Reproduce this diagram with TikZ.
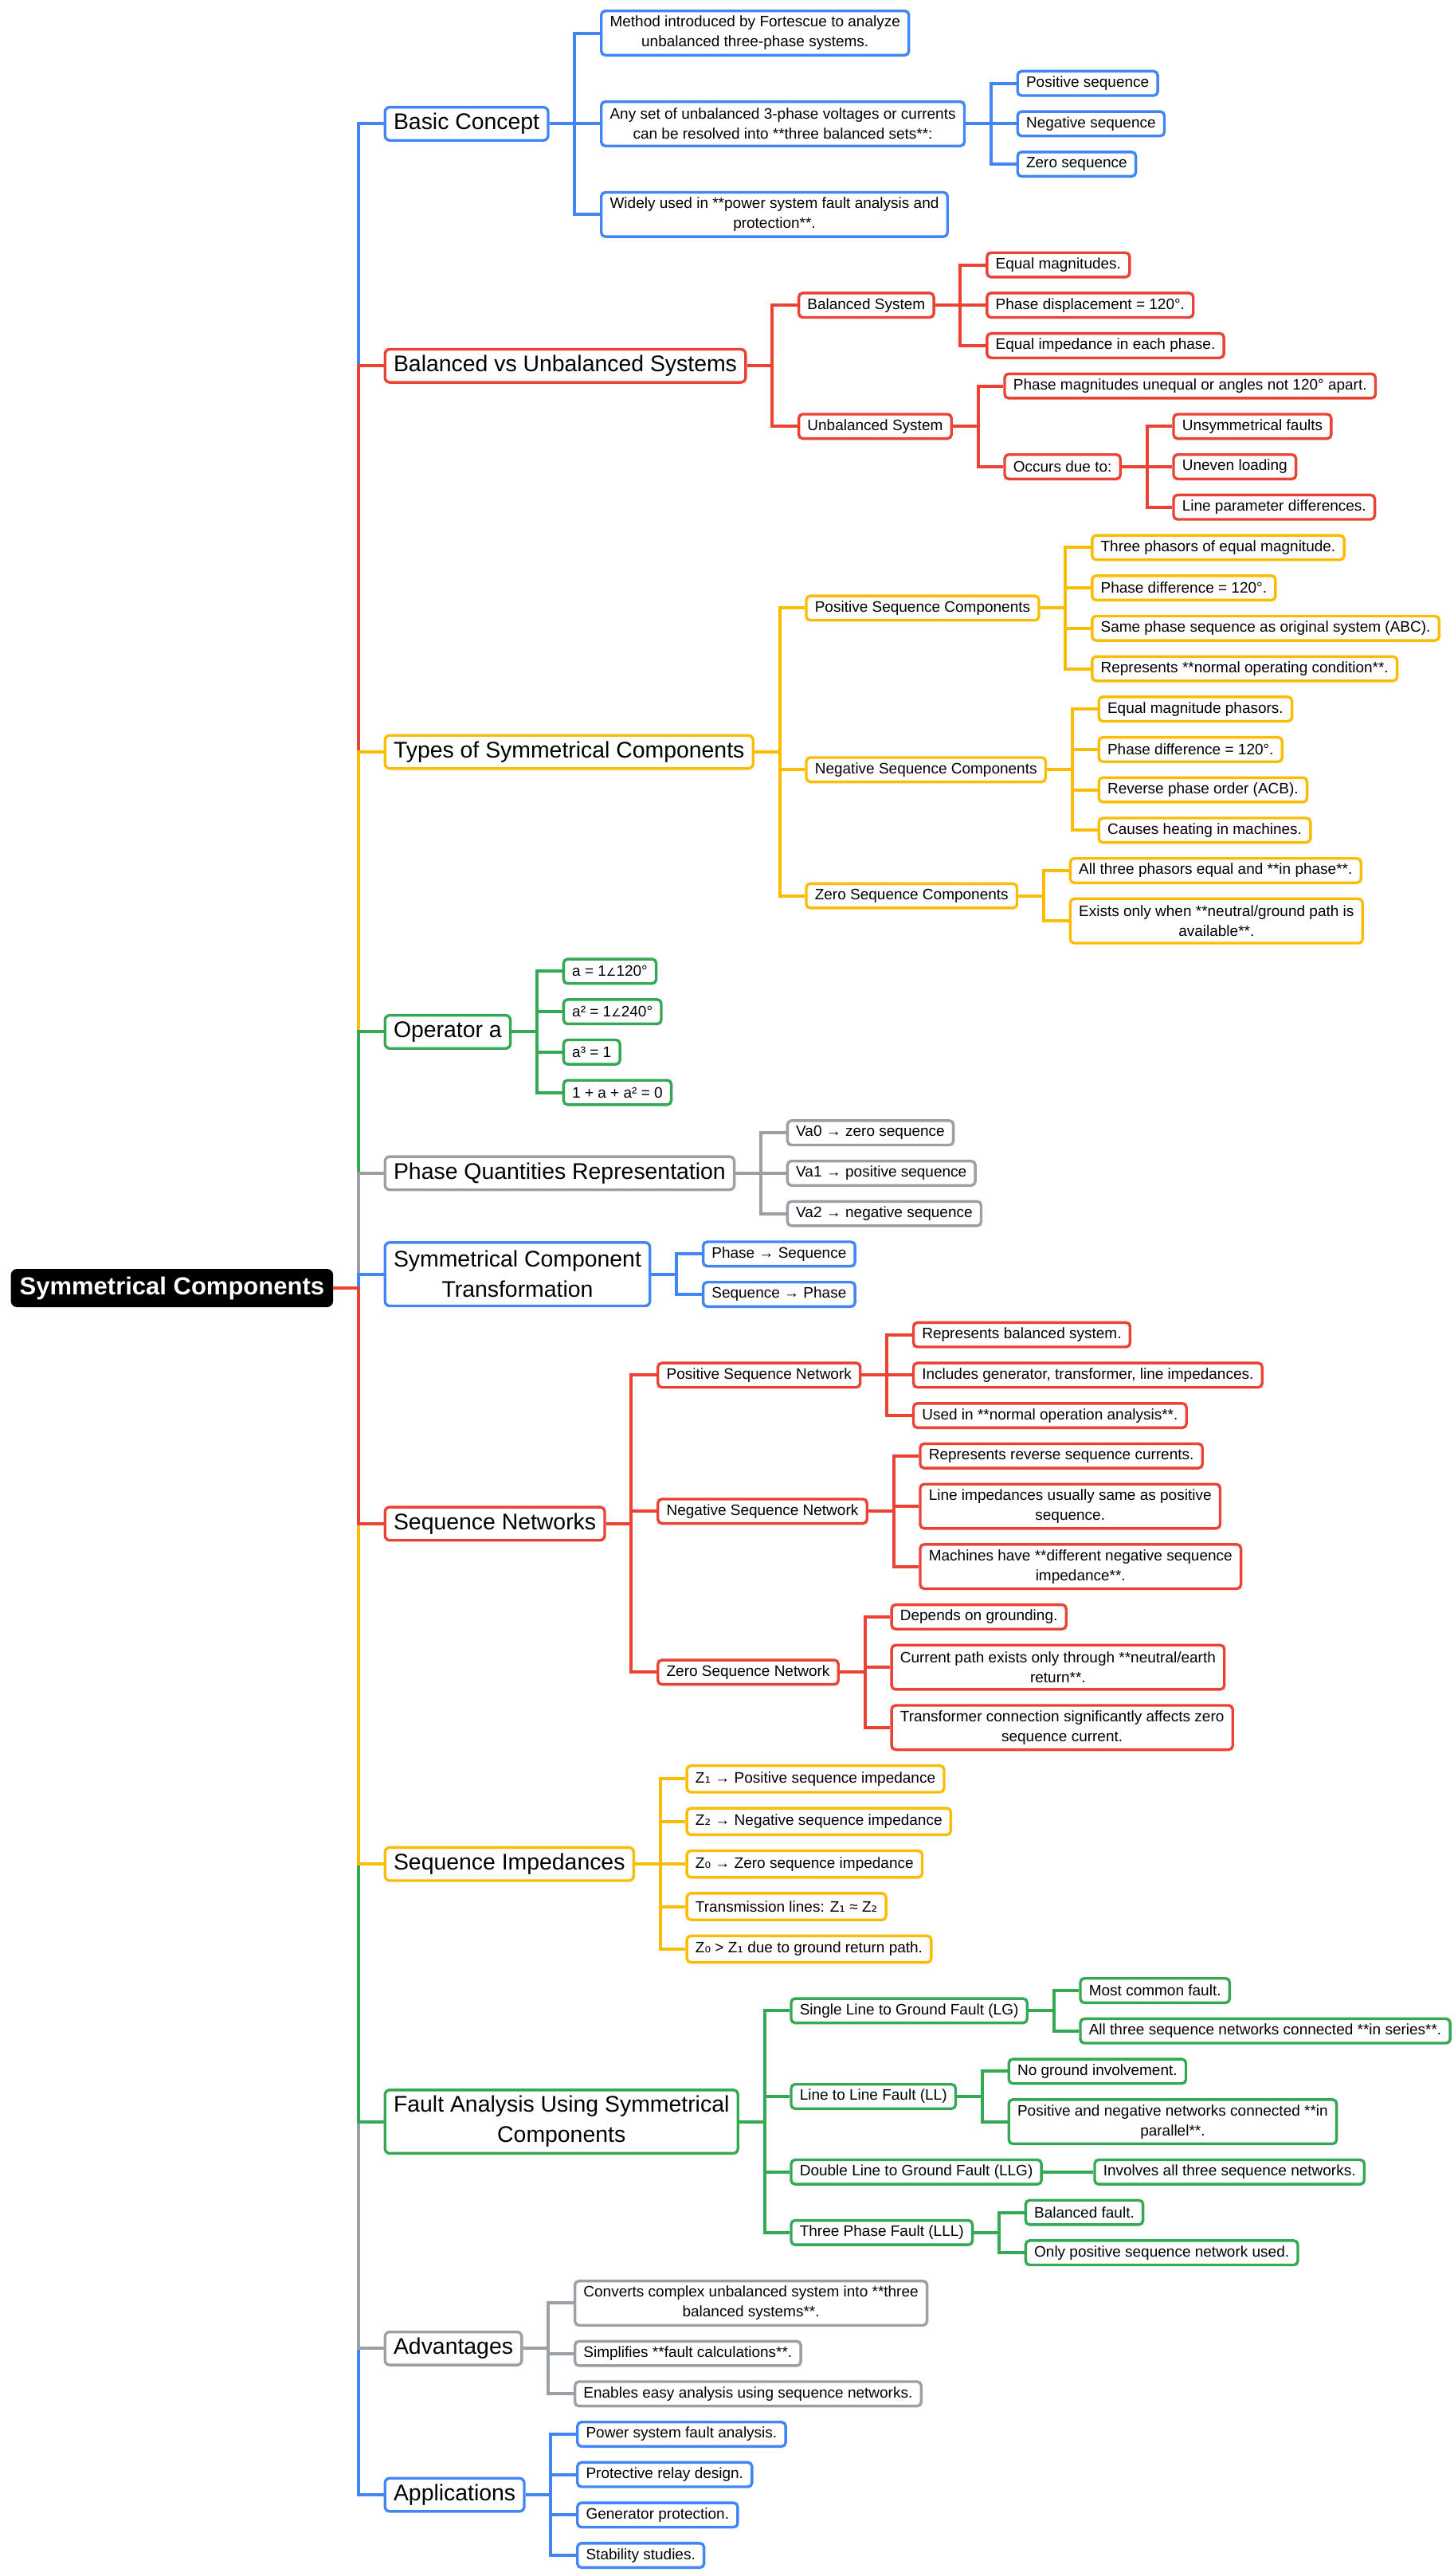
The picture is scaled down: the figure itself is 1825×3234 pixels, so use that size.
\documentclass[tikz,border=0pt]{standalone}
\usepackage{fontspec}
\setmainfont{Liberation Sans}
\newfontfamily\symfont{DejaVu Sans}
\usetikzlibrary{positioning,backgrounds}
\definecolor{scblue}{HTML}{4285F4}
\definecolor{scred}{HTML}{EA4335}
\definecolor{scyellow}{HTML}{FBBC04}
\definecolor{scgreen}{HTML}{34A853}
\definecolor{scgrey}{HTML}{9AA0A6}
\newcommand{\angl}{{\symfont\fontsize{7}{9}\selectfont ∠}}
\newcommand{\zs}[1]{{\symfont #1}}
\tikzset{
  rootbox/.style={draw=black, fill=black, text=white, line width=1.7pt, rounded corners=3pt, font=\fontsize{15.5}{18}\selectfont\bfseries, minimum height=22.3pt, inner xsep=4.65pt, inner ysep=0pt},
  topic/.style={draw, fill=white, line width=1.7pt, rounded corners=3pt, align=center, font=\fontsize{14.2}{19}\selectfont, minimum height=20.8pt, inner xsep=5.4pt, inner ysep=0pt, anchor=west, xshift=31.7pt},
  leaf/.style={draw, fill=white, line width=1.7pt, rounded corners=2.5pt, align=center, font=\fontsize{9.5}{12.5}\selectfont, minimum height=15.3pt, inner xsep=5.4pt, inner ysep=0pt, anchor=west, xshift=31.7pt},
  tall/.style={minimum height=39.8pt},
  wrap/.style={minimum height=27.8pt},
  zsub/.style={minimum height=16.65pt},
  link/.style={line width=2pt},
}
\begin{document}
\begin{tikzpicture}[x=0.5pt,y=-0.5pt]
  \useasboundingbox (0,0) rectangle (1825,3234);
  \node[rootbox, anchor=west] (root) at (13.7,1617) {Symmetrical Components};

  % main topics
  \node[topic, draw=scblue] (bc) at (root.east |- 0,155.4) {Basic Concept};
  \node[topic, draw=scred] (bvu) at (root.east |- 0,459.25) {Balanced vs Unbalanced Systems};
  \node[topic, draw=scyellow] (types) at (root.east |- 0,944) {Types of Symmetrical Components};
  \node[topic, draw=scgreen] (opa) at (root.east |- 0,1295.45) {Operator a};
  \node[topic, draw=scgrey] (pqr) at (root.east |- 0,1472.9) {Phase Quantities Representation};
  \node[topic, tall, draw=scblue] (sct) at (root.east |- 0,1599.65) {Symmetrical Component\\Transformation};
  \node[topic, draw=scred] (snet) at (root.east |- 0,1912.9) {Sequence Networks};
  \node[topic, draw=scyellow] (simp) at (root.east |- 0,2340.15) {Sequence Impedances};
  \node[topic, tall, draw=scgreen] (fault) at (root.east |- 0,2663.6) {Fault Analysis Using Symmetrical\\Components};
  \node[topic, draw=scgrey] (adv) at (root.east |- 0,2948.35) {Advantages};
  \node[topic, draw=scblue] (app) at (root.east |- 0,3132.05) {Applications};

  % basic concept
  \node[leaf, wrap, draw=scblue] (bc1) at (bc.east |- 0,41.5) {Method introduced by Fortescue to analyze\\unbalanced three-phase systems.};
  \node[leaf, wrap, draw=scblue] (bc2) at (bc.east |- 0,155.4) {Any set of unbalanced 3-phase voltages or currents\\can be resolved into **three balanced sets**:};
  \node[leaf, wrap, draw=scblue] (bc3) at (bc.east |- 0,269.3) {Widely used in **power system fault analysis and\\protection**.};
  \node[leaf, draw=scblue] (bc2a) at (bc2.east |- 0,104.7) {Positive sequence};
  \node[leaf, draw=scblue] (bc2b) at (bc2.east |- 0,155.4) {Negative sequence};
  \node[leaf, draw=scblue] (bc2c) at (bc2.east |- 0,206.1) {Zero sequence};

  % balanced vs unbalanced
  \node[leaf, draw=scred] (bal) at (bvu.east |- 0,383.2) {Balanced System};
  \node[leaf, draw=scred] (unb) at (bvu.east |- 0,535.3) {Unbalanced System};
  \node[leaf, draw=scred] (bal1) at (bal.east |- 0,332.5) {Equal magnitudes.};
  \node[leaf, draw=scred] (bal2) at (bal.east |- 0,383.2) {Phase displacement = 120°.};
  \node[leaf, draw=scred] (bal3) at (bal.east |- 0,433.9) {Equal impedance in each phase.};
  \node[leaf, draw=scred] (unb1) at (unb.east |- 0,484.6) {Phase magnitudes unequal or angles not 120° apart.};
  \node[leaf, draw=scred] (unb2) at (unb.east |- 0,586) {Occurs due to:};
  \node[leaf, draw=scred] (unb2a) at (unb2.east |- 0,535.3) {Unsymmetrical faults};
  \node[leaf, draw=scred] (unb2b) at (unb2.east |- 0,586) {Uneven loading};
  \node[leaf, draw=scred] (unb2c) at (unb2.east |- 0,636.7) {Line parameter differences.};

  % types
  \node[leaf, draw=scyellow] (pos) at (types.east |- 0,763.45) {Positive Sequence Components};
  \node[leaf, draw=scyellow] (neg) at (types.east |- 0,966.25) {Negative Sequence Components};
  \node[leaf, draw=scyellow] (zer) at (types.east |- 0,1124.6) {Zero Sequence Components};
  \node[leaf, draw=scyellow] (pos1) at (pos.east |- 0,687.4) {Three phasors of equal magnitude.};
  \node[leaf, draw=scyellow] (pos2) at (pos.east |- 0,738.1) {Phase difference = 120°.};
  \node[leaf, draw=scyellow] (pos3) at (pos.east |- 0,788.8) {Same phase sequence as original system (ABC).};
  \node[leaf, draw=scyellow] (pos4) at (pos.east |- 0,839.5) {Represents **normal operating condition**.};
  \node[leaf, draw=scyellow] (neg1) at (neg.east |- 0,890.2) {Equal magnitude phasors.};
  \node[leaf, draw=scyellow] (neg2) at (neg.east |- 0,940.9) {Phase difference = 120°.};
  \node[leaf, draw=scyellow] (neg3) at (neg.east |- 0,991.6) {Reverse phase order (ACB).};
  \node[leaf, draw=scyellow] (neg4) at (neg.east |- 0,1042.3) {Causes heating in machines.};
  \node[leaf, draw=scyellow] (zer1) at (zer.east |- 0,1093) {All three phasors equal and **in phase**.};
  \node[leaf, wrap, draw=scyellow] (zer2) at (zer.east |- 0,1156.2) {Exists only when **neutral/ground path is\\available**.};

  % operator a
  \node[leaf, draw=scgreen] (opa1) at (opa.east |- 0,1219.4) {a = 1\angl120°};
  \node[leaf, draw=scgreen] (opa2) at (opa.east |- 0,1270.1) {a² = 1\angl240°};
  \node[leaf, draw=scgreen] (opa3) at (opa.east |- 0,1320.8) {a³ = 1};
  \node[leaf, draw=scgreen] (opa4) at (opa.east |- 0,1371.5) {1 + a + a² = 0};

  % phase quantities
  \node[leaf, draw=scgrey] (pqr1) at (pqr.east |- 0,1422.2) {Va0 → zero sequence};
  \node[leaf, draw=scgrey] (pqr2) at (pqr.east |- 0,1472.9) {Va1 → positive sequence};
  \node[leaf, draw=scgrey] (pqr3) at (pqr.east |- 0,1523.6) {Va2 → negative sequence};

  % transformation
  \node[leaf, draw=scblue] (sct1) at (sct.east |- 0,1574.3) {Phase → Sequence};
  \node[leaf, draw=scblue] (sct2) at (sct.east |- 0,1625) {Sequence → Phase};

  % sequence networks
  \node[leaf, draw=scred] (psn) at (snet.east |- 0,1726.4) {Positive Sequence Network};
  \node[leaf, draw=scred] (nsn) at (snet.east |- 0,1897.25) {Negative Sequence Network};
  \node[leaf, draw=scred] (zsn) at (snet.east |- 0,2099.35) {Zero Sequence Network};
  \node[leaf, draw=scred] (psn1) at (psn.east |- 0,1675.7) {Represents balanced system.};
  \node[leaf, draw=scred] (psn2) at (psn.east |- 0,1726.4) {Includes generator, transformer, line impedances.};
  \node[leaf, draw=scred] (psn3) at (psn.east |- 0,1777.1) {Used in **normal operation analysis**.};
  \node[leaf, draw=scred] (nsn1) at (nsn.east |- 0,1827.8) {Represents reverse sequence currents.};
  \node[leaf, wrap, draw=scred] (nsn2) at (nsn.east |- 0,1891) {Line impedances usually same as positive\\sequence.};
  \node[leaf, wrap, draw=scred] (nsn3) at (nsn.east |- 0,1966.7) {Machines have **different negative sequence\\impedance**.};
  \node[leaf, draw=scred] (zsn1) at (zsn.east |- 0,2029.9) {Depends on grounding.};
  \node[leaf, wrap, draw=scred] (zsn2) at (zsn.east |- 0,2093.1) {Current path exists only through **neutral/earth\\return**.};
  \node[leaf, wrap, draw=scred] (zsn3) at (zsn.east |- 0,2168.8) {Transformer connection significantly affects zero\\sequence current.};

  % impedances
  \node[leaf, zsub, draw=scyellow] (simp1) at (simp.east |- 0,2233.35) {Z\zs{₁} → Positive sequence impedance};
  \node[leaf, zsub, draw=scyellow] (simp2) at (simp.east |- 0,2286.75) {Z\zs{₂} → Negative sequence impedance};
  \node[leaf, zsub, draw=scyellow] (simp3) at (simp.east |- 0,2340.15) {Z\zs{₀} → Zero sequence impedance};
  \node[leaf, zsub, draw=scyellow] (simp4) at (simp.east |- 0,2393.55) {Transmission lines: Z\zs{₁} ≈ Z\zs{₂}};
  \node[leaf, zsub, draw=scyellow] (simp5) at (simp.east |- 0,2446.95) {Z\zs{₀} > Z\zs{₁} due to ground return path.};

  % faults
  \node[leaf, draw=scgreen] (lg) at (fault.east |- 0,2524.35) {Single Line to Ground Fault (LG)};
  \node[leaf, draw=scgreen] (ll) at (fault.east |- 0,2632) {Line to Line Fault (LL)};
  \node[leaf, draw=scgreen] (llg) at (fault.east |- 0,2726.8) {Double Line to Ground Fault (LLG)};
  \node[leaf, draw=scgreen] (lll) at (fault.east |- 0,2802.85) {Three Phase Fault (LLL)};
  \node[leaf, draw=scgreen] (lg1) at (lg.east |- 0,2499) {Most common fault.};
  \node[leaf, draw=scgreen] (lg2) at (lg.east |- 0,2549.7) {All three sequence networks connected **in series**.};
  \node[leaf, draw=scgreen] (ll1) at (ll.east |- 0,2600.4) {No ground involvement.};
  \node[leaf, wrap, draw=scgreen] (ll2) at (ll.east |- 0,2663.6) {Positive and negative networks connected **in\\parallel**.};
  \node[leaf, draw=scgreen] (llg1) at (llg.east |- 0,2726.8) {Involves all three sequence networks.};
  \node[leaf, draw=scgreen] (lll1) at (lll.east |- 0,2777.5) {Balanced fault.};
  \node[leaf, draw=scgreen] (lll2) at (lll.east |- 0,2828.2) {Only positive sequence network used.};

  % advantages and applications
  \node[leaf, wrap, draw=scgrey] (adv1) at (adv.east |- 0,2891.4) {Converts complex unbalanced system into **three\\balanced systems**.};
  \node[leaf, draw=scgrey] (adv2) at (adv.east |- 0,2954.6) {Simplifies **fault calculations**.};
  \node[leaf, draw=scgrey] (adv3) at (adv.east |- 0,3005.3) {Enables easy analysis using sequence networks.};
  \node[leaf, draw=scblue] (app1) at (app.east |- 0,3056) {Power system fault analysis.};
  \node[leaf, draw=scblue] (app2) at (app.east |- 0,3106.7) {Protective relay design.};
  \node[leaf, draw=scblue] (app3) at (app.east |- 0,3157.4) {Generator protection.};
  \node[leaf, draw=scblue] (app4) at (app.east |- 0,3208.1) {Stability studies.};

  % connectors
  \begin{scope}[on background layer={link}]
    \foreach \k/\c in {bc/scblue,bvu/scred,types/scyellow,opa/scgreen,pqr/scgrey,sct/scblue,
                       app/scblue,adv/scgrey,fault/scgreen,simp/scyellow,snet/scred}
      \draw[link, \c] (root.east) -- ++(15.85pt,0) |- (\k.west);
    \foreach \p/\k/\c in {bc/bc1/scblue,bc/bc2/scblue,bc/bc3/scblue,
                          bc2/bc2a/scblue,bc2/bc2b/scblue,bc2/bc2c/scblue,
                          bvu/bal/scred,bvu/unb/scred,bal/bal1/scred,bal/bal2/scred,bal/bal3/scred,
                          unb/unb1/scred,unb/unb2/scred,unb2/unb2a/scred,unb2/unb2b/scred,unb2/unb2c/scred,
                          types/pos/scyellow,types/neg/scyellow,types/zer/scyellow,
                          pos/pos1/scyellow,pos/pos2/scyellow,pos/pos3/scyellow,pos/pos4/scyellow,
                          neg/neg1/scyellow,neg/neg2/scyellow,neg/neg3/scyellow,neg/neg4/scyellow,
                          zer/zer1/scyellow,zer/zer2/scyellow,
                          opa/opa1/scgreen,opa/opa2/scgreen,opa/opa3/scgreen,opa/opa4/scgreen,
                          pqr/pqr1/scgrey,pqr/pqr2/scgrey,pqr/pqr3/scgrey,
                          sct/sct1/scblue,sct/sct2/scblue,
                          snet/psn/scred,snet/nsn/scred,snet/zsn/scred,
                          psn/psn1/scred,psn/psn2/scred,psn/psn3/scred,
                          nsn/nsn1/scred,nsn/nsn2/scred,nsn/nsn3/scred,
                          zsn/zsn1/scred,zsn/zsn2/scred,zsn/zsn3/scred,
                          simp/simp1/scyellow,simp/simp2/scyellow,simp/simp3/scyellow,simp/simp4/scyellow,simp/simp5/scyellow,
                          fault/lg/scgreen,fault/ll/scgreen,fault/llg/scgreen,fault/lll/scgreen,
                          lg/lg1/scgreen,lg/lg2/scgreen,ll/ll1/scgreen,ll/ll2/scgreen,
                          llg/llg1/scgreen,lll/lll1/scgreen,lll/lll2/scgreen,
                          adv/adv1/scgrey,adv/adv2/scgrey,adv/adv3/scgrey,
                          app/app1/scblue,app/app2/scblue,app/app3/scblue,app/app4/scblue}
      \draw[link, \c] (\p.east) -- ++(15.85pt,0) |- (\k.west);
  \end{scope}
\end{tikzpicture}
\end{document}
